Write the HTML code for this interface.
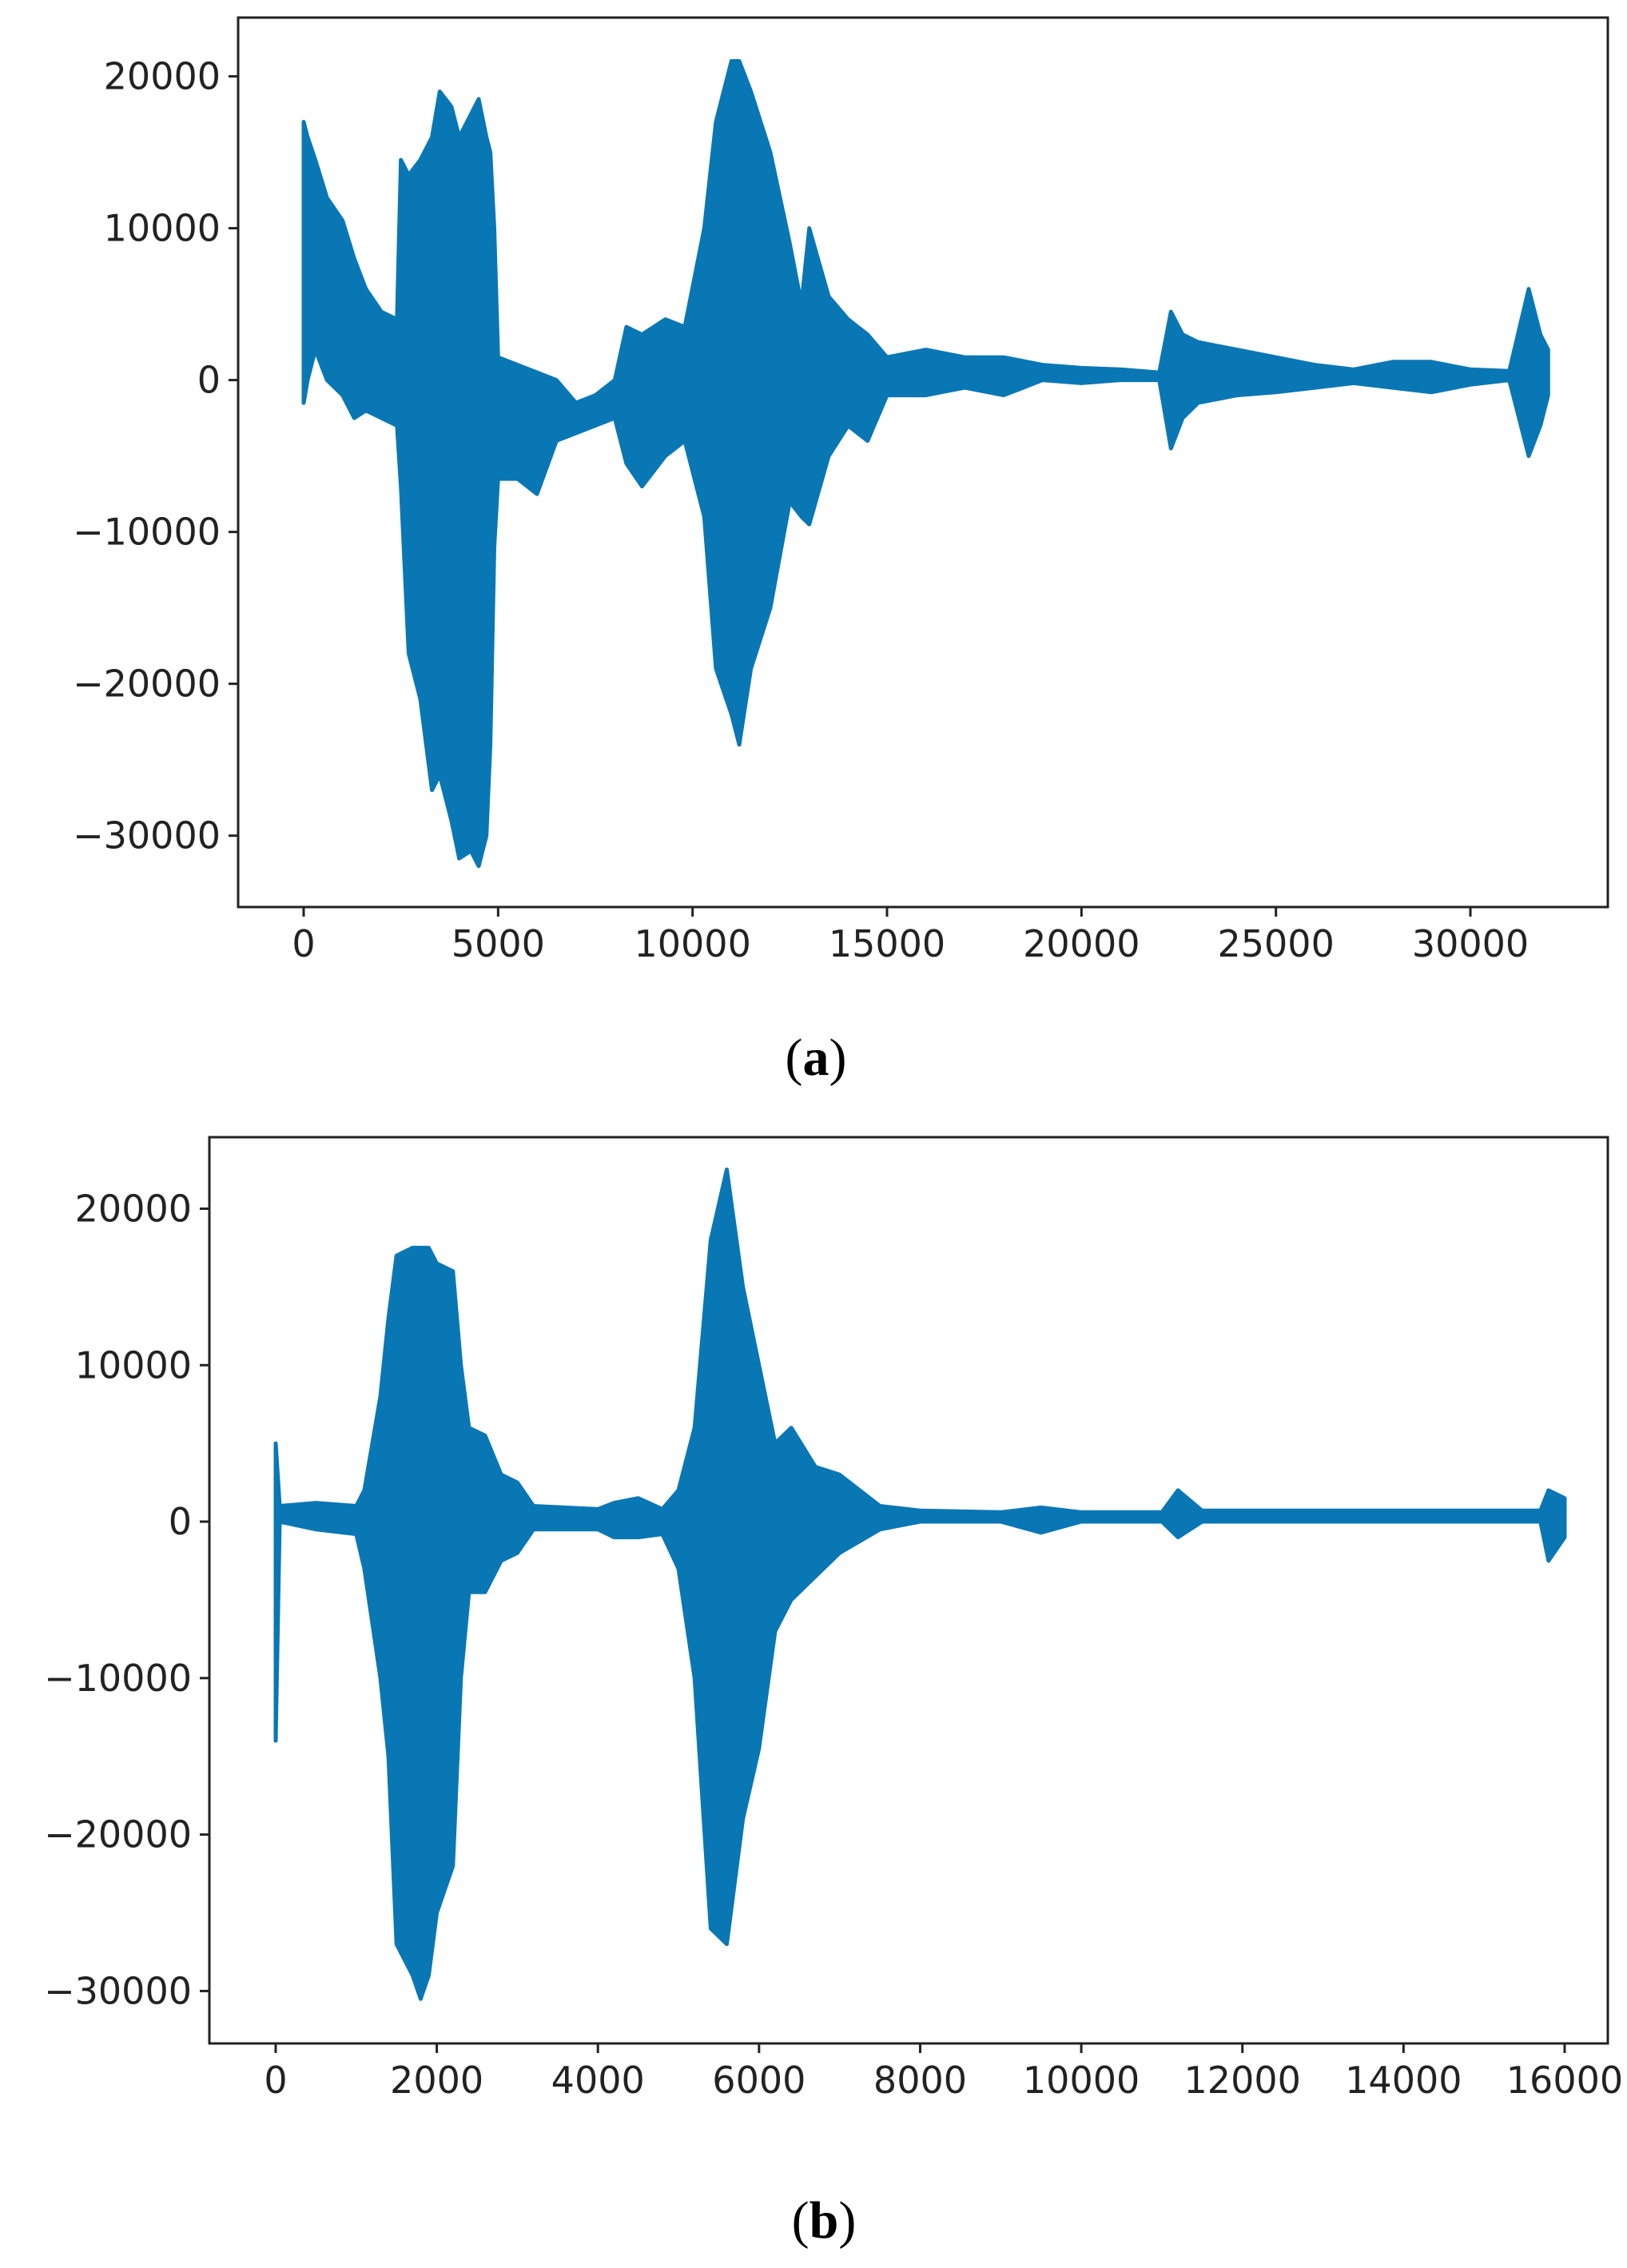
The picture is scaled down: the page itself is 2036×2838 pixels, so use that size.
<!DOCTYPE html>
<html><head><meta charset="utf-8"><style>
body{margin:0;background:#fff}
svg{display:block}
text{font-family:"DejaVu Sans","Liberation Sans",sans-serif;fill:#222}
</style></head><body>
<svg id="svg" width="2036" height="2838" viewBox="0 0 2036 2838" xmlns="http://www.w3.org/2000/svg"></svg>
<script>
// Panel (a) data: sample index, upper envelope, lower envelope
const aX=[0,100,300,600,1000,1300,1600,2000,2400,2500,2700,3000,3300,3500,3800,4000,4300,4500,4700,4800,4900,5000,5500,6000,6500,7000,7500,8000,8300,8700,9300,9800,10300,10600,11000,11200,11500,12000,12500,12800,13000,13500,14000,14500,15000,16000,17000,18000,19000,20000,21000,22000,22300,22600,23000,24000,25000,26000,27000,28000,29000,30000,31000,31500,31800,32000];
const aUpper=[17000,16000,14500,12000,10500,8000,6000,4500,4000,14500,13500,14500,16000,19000,18000,16000,17500,18500,16000,15000,10000,1500,1000,500,0,-1500,-1000,0,3500,3000,4000,3500,10000,17000,21000,21000,19000,15000,9000,5000,10000,5500,4000,3000,1500,2000,1500,1500,1000,800,700,500,4500,3000,2500,2000,1500,1000,700,1200,1200,700,600,6000,3000,2000];
const aLower=[-1500,0,2000,0,-1000,-2500,-2000,-2500,-3000,-7000,-18000,-21000,-27000,-26000,-29000,-31500,-31000,-32000,-30000,-24000,-11000,-6500,-6500,-7500,-4000,-3500,-3000,-2500,-5500,-7000,-5000,-4000,-9000,-19000,-22000,-24000,-19000,-15000,-8000,-9000,-9500,-5000,-3000,-4000,-1000,-1000,-500,-1000,0,-200,0,0,-4500,-2500,-1500,-1000,-800,-500,-200,-500,-800,-300,0,-5000,-3000,-1000];
const aXTicks=[0,5000,10000,15000,20000,25000,30000];
const aYTicks=[20000,10000,0,-10000,-20000,-30000];
// Panel (b) data
const bX=[0,50,500,1000,1100,1300,1400,1500,1700,1800,1900,2000,2200,2300,2400,2600,2800,3000,3200,4000,4200,4500,4800,5000,5200,5400,5600,5800,6000,6200,6400,6700,7000,7500,8000,9000,9500,10000,11000,11200,11500,15700,15800,16000];
const bUpper=[5000,1000,1200,1000,2000,8000,13000,17000,17500,17500,17500,16500,16000,10000,6000,5500,3000,2500,1000,800,1200,1500,800,2000,6000,18000,22500,15000,10000,5000,6000,3500,3000,1000,700,600,900,600,600,2000,700,700,2000,1500];
const bLower=[-14000,0,-500,-800,-3000,-10000,-15000,-27000,-29000,-30500,-29000,-25000,-22000,-10000,-4500,-4500,-2500,-2000,-500,-500,-1000,-1000,-800,-3000,-10000,-26000,-27000,-19000,-14500,-7000,-5000,-3500,-2000,-500,0,0,-700,0,0,-1000,0,0,-2500,-1000];
const bXTicks=[0,2000,4000,6000,8000,10000,12000,14000,16000];
const bYTicks=[20000,10000,0,-10000,-20000,-30000];

const NS="http://www.w3.org/2000/svg";
const svg=document.getElementById('svg');
function mk(tag,attrs,parent){const e=document.createElementNS(NS,tag);for(const k in attrs)e.setAttribute(k,attrs[k]);(parent||svg).appendChild(e);return e;}
function fmt(v){return v<0?'\u2212'+(-v):''+v;}

function panel(id,box,xd,yd,X,U,L,xt,yt,cap,capPos){
  const g=mk('g',{});
  
  
  const sx=v=>box.l+(v-xd[0])/(xd[1]-xd[0])*(box.r-box.l);
  const sy=v=>box.b-(v-yd[0])/(yd[1]-yd[0])*(box.b-box.t);
  let pts=[];
  for(let i=0;i<X.length;i++)pts.push(sx(X[i]).toFixed(1)+','+sy(U[i]).toFixed(1));
  for(let i=X.length-1;i>=0;i--)pts.push(sx(X[i]).toFixed(1)+','+sy(L[i]).toFixed(1));
  const wave=mk('polygon',{points:pts.join(' '),fill:'#0a77b5',stroke:'#0a77b5','stroke-width':5,'stroke-linejoin':'round'},g);
  
  
  const frame=mk('rect',{x:box.l,y:box.t,width:box.r-box.l,height:box.b-box.t,fill:'none',stroke:'#222','stroke-width':3},g);
  
  
  xt.forEach(v=>{
    const x=sx(v);
    mk('line',{x1:x,x2:x,y1:box.b,y2:box.b+12,stroke:'#222','stroke-width':3},g);
    const t=mk('text',{x:x,y:box.b+62,'text-anchor':'middle','font-size':46},g);
    t.textContent=fmt(v);
    
    
  });
  yt.forEach(v=>{
    const y=sy(v);
    mk('line',{x1:box.l-12,x2:box.l,y1:y,y2:y,stroke:'#222','stroke-width':3},g);
    const t=mk('text',{x:box.l-22,y:y+16,'text-anchor':'end','font-size':46},g);
    t.textContent=fmt(v);
    
    
  });
  const c=mk('text',{x:capPos[0],y:capPos[1],'text-anchor':'middle','font-size':66},g);
  c.setAttribute('style','font-family:"Liberation Serif",serif;fill:#000');
  c.innerHTML='(<tspan font-weight="bold">'+cap+'</tspan>)';
  
  
}
panel('a',{l:298,r:2012,t:22,b:1135},[-1685,33534],[-34700,23870],aX,aUpper,aLower,aXTicks,aYTicks,'a',[1021,1345]);
panel('b',{l:262,r:2012,t:1423,b:2557},[-823,16536],[-33350,24570],bX,bUpper,bLower,bXTicks,bYTicks,'b',[1031,2800]);
</script>
</body></html>
